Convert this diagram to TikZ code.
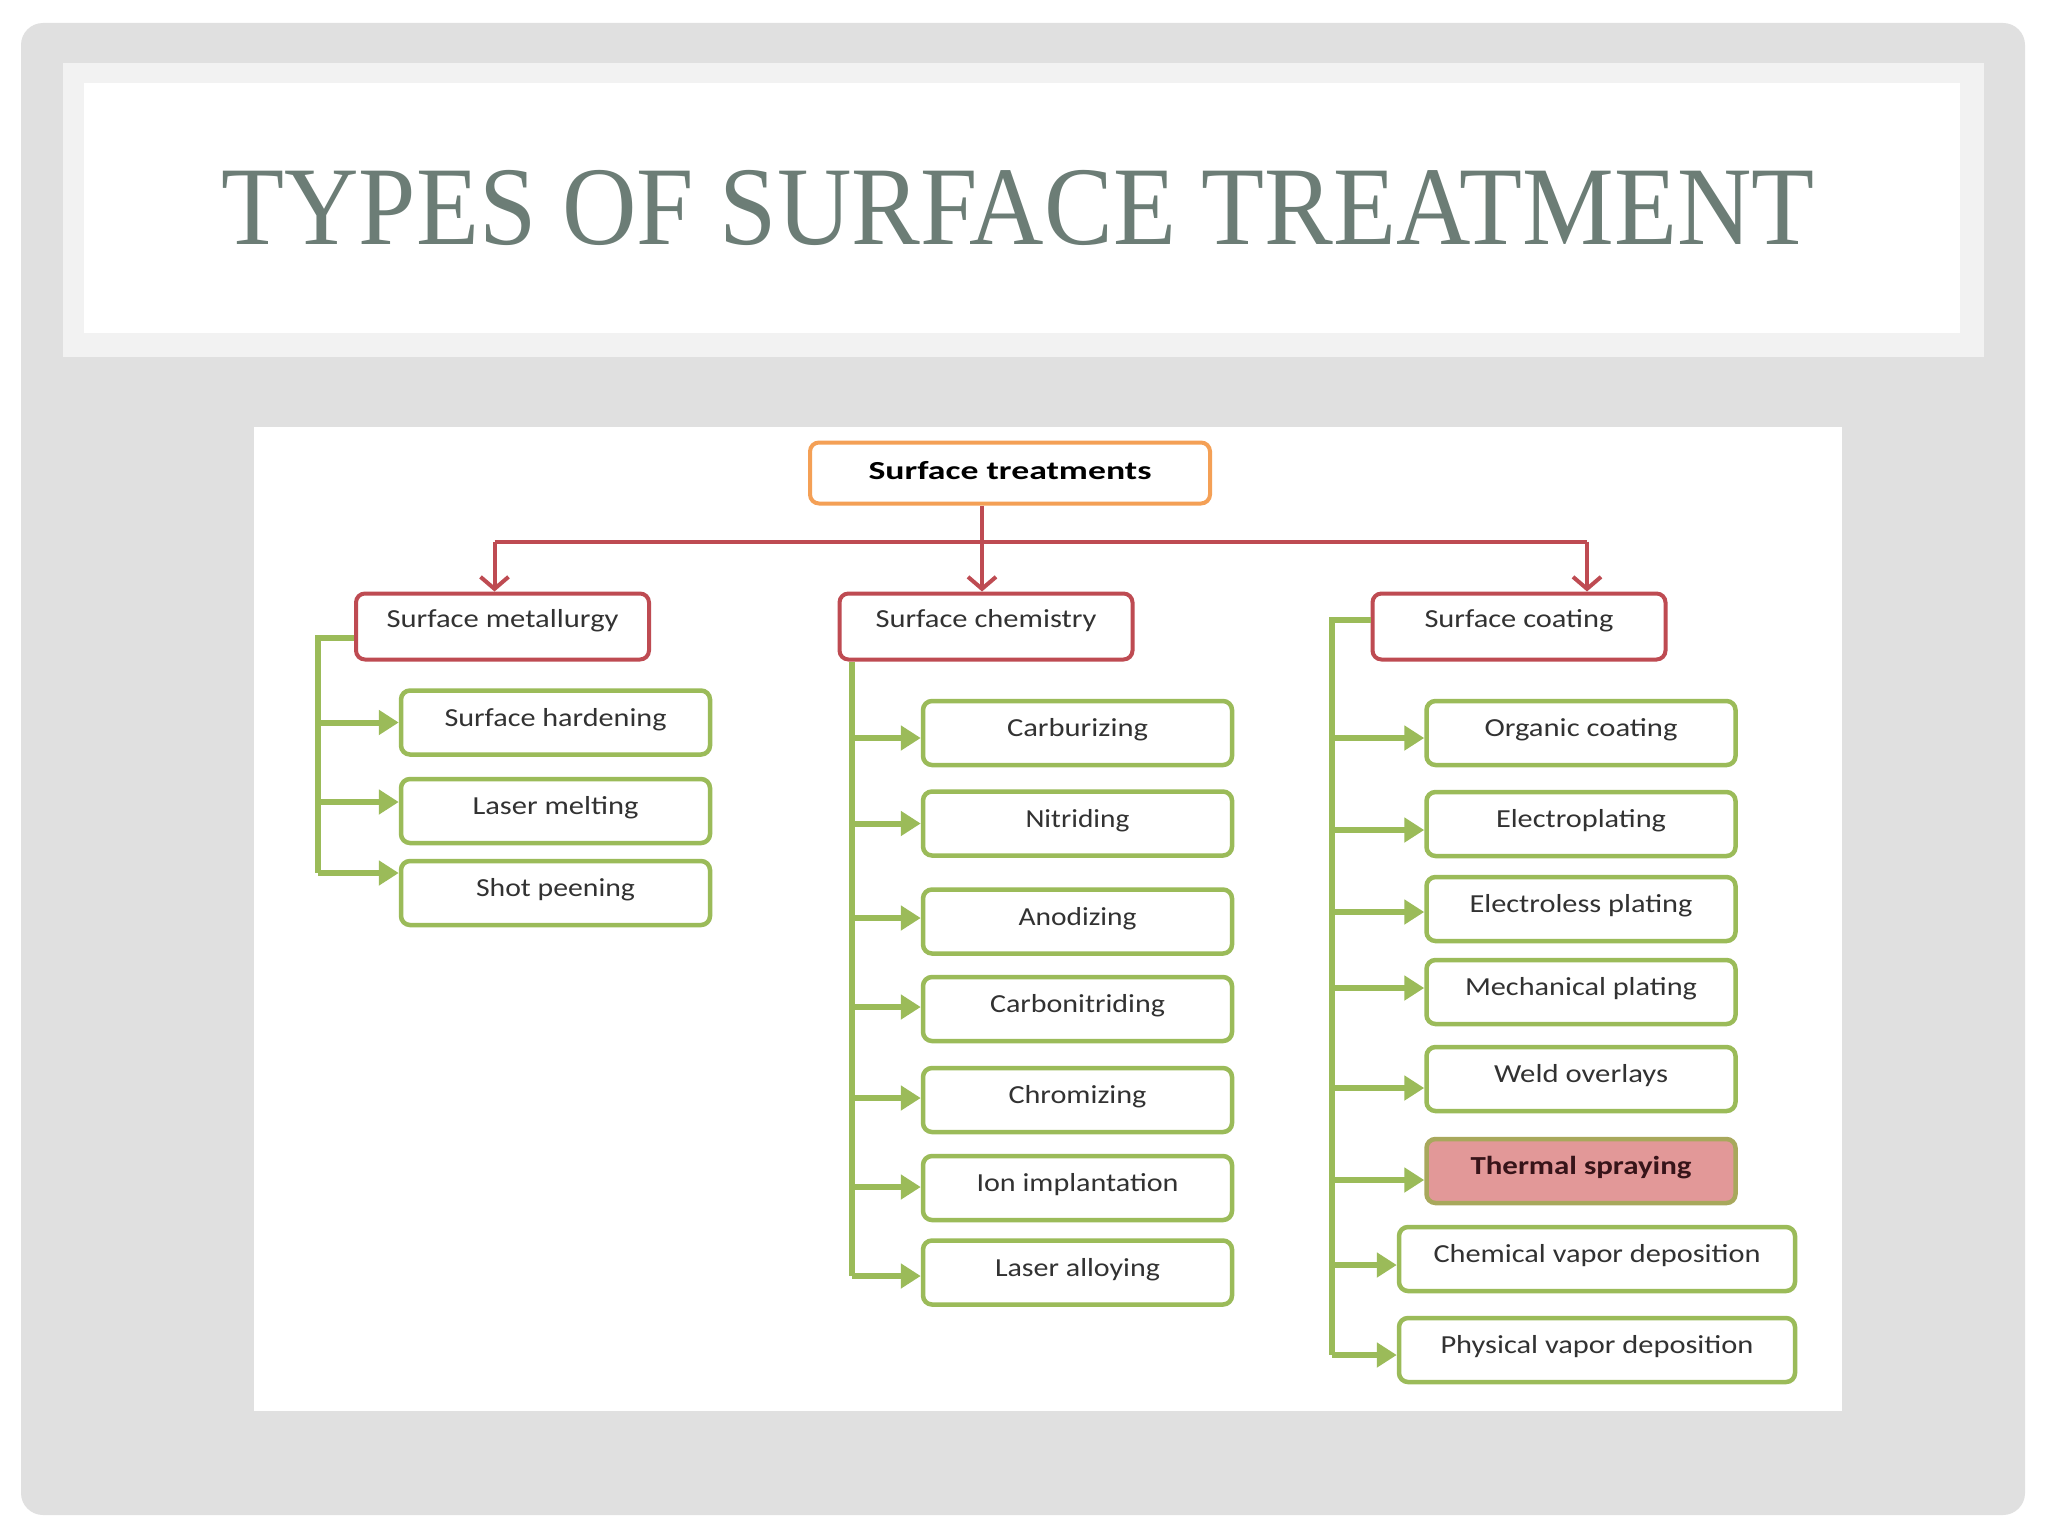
\documentclass[tikz,border=0pt]{standalone}
\usepackage{fontspec}
\setmainfont{Carlito}
\newfontfamily\titlefont{Liberation Serif}
\usetikzlibrary{arrows.meta,calc}
\definecolor{outergray}{RGB}{224,224,224}
\definecolor{framegray}{RGB}{242,242,242}
\definecolor{titlec}{RGB}{108,125,118}
\definecolor{redc}{RGB}{190,75,82}
\definecolor{orangec}{RGB}{244,160,86}
\definecolor{greenc}{RGB}{155,187,89}
\definecolor{txt}{RGB}{50,50,50}
\definecolor{pinkfill}{RGB}{226,152,152}
\definecolor{mudborder}{RGB}{168,168,92}
\definecolor{darktxt}{RGB}{55,20,25}
\newsavebox\fitbox
\newcommand\fitw[2]{\sbox\fitbox{#2}\pgfmathsetmacro\fitr{#1/\the\wd\fitbox}\scalebox{\fitr}[1]{\usebox\fitbox}}
\tikzset{
  boxbase/.style={rectangle, rounded corners=9pt, align=center, inner sep=0pt, fill=white,
    font=\fontsize{26}{30}\selectfont, text=txt},
  rootbox/.style={boxbase, draw=orangec, line width=4pt, minimum width=400pt, minimum height=61pt,
    text height=18pt, text depth=5pt, text=black},
  lvone/.style={boxbase, draw=redc, line width=4pt, minimum width=293pt, minimum height=66pt,
    text height=14pt, text depth=12pt},
  leaf/.style={boxbase, draw=greenc, line width=4.5pt, minimum width=309pt, minimum height=64pt,
    text height=16pt, text depth=9pt},
  hilite/.style={leaf, fill=pinkfill, draw=mudborder, text=darktxt},
  wideleaf/.style={leaf, minimum width=396pt},
  redline/.style={draw=redc, line width=4pt},
  redarr/.style={redline, -{Straight Barb[length=12pt,width=28pt]}},
  gline/.style={draw=greenc, line width=6pt},
  garr/.style={gline, -{Triangle[length=20pt,width=24pt]}}
}
\begin{document}
\begin{tikzpicture}[x=1pt,y=-1pt]
\useasboundingbox (0,0) rectangle (2048,1536);
% background
\fill[white] (0,0) rectangle (2048,1536);
\fill[outergray, rounded corners=22pt] (21,23) rectangle (2025,1515);
\fill[framegray] (63,63) rectangle (1984,357);
\fill[white] (84,83) rectangle (1960,333);
\fill[white] (254,427) rectangle (1842,1411);
% title
\node (title) [anchor=base, font=\titlefont\fontsize{112}{120}\selectfont, text=titlec, inner sep=0pt]
  at (1018,244) {\fitw{1593}{TYPES OF SURFACE TREATMENT}};
% root
\node[rootbox] (root) at (1010,473) {\fitw{283}{\bfseries Surface treatments}};
% level one
\node[lvone] (met) at (502.5,626.5) {\fitw{232}{Surface metallurgy}};
\node[lvone] (chem) at (986,626.5) {\fitw{221}{Surface chemistry}};
\node[lvone] (coat) at (1519,626.5) {\fitw{189}{Surface coating}};
% left leaves
\node[leaf] (hard) at (555.5,722.5) {\fitw{222}{Surface hardening}};
\node[leaf] (lmelt) at (555.5,811) {\fitw{166}{Laser melting}};
\node[leaf] (shot) at (555.5,893) {\fitw{159}{Shot peening}};
% middle leaves
\node[leaf] (carb) at (1077.5,733) {\fitw{141}{Carburizing}};
\node[leaf] (nitr) at (1077.5,823.5) {\fitw{104}{Nitriding}};
\node[leaf] (anod) at (1077.5,921.5) {\fitw{118}{Anodizing}};
\node[leaf] (cnit) at (1077.5,1009) {\fitw{175}{Carbonitriding}};
\node[leaf] (chrom) at (1077.5,1100) {\fitw{138}{Chromizing}};
\node[leaf] (ion) at (1077.5,1188) {\fitw{202}{Ion implantation}};
\node[leaf] (lall) at (1077.5,1272.5) {\fitw{165}{Laser alloying}};
% right leaves
\node[leaf] (org) at (1581,733) {\fitw{193}{Organic coating}};
\node[leaf] (elec) at (1581,824) {\fitw{170}{Electroplating}};
\node[leaf] (eless) at (1581,909) {\fitw{223}{Electroless plating}};
\node[leaf] (mech) at (1581,992) {\fitw{232}{Mechanical plating}};
\node[leaf] (weld) at (1581,1079) {\fitw{174}{Weld overlays}};
\node[hilite] (therm) at (1581,1171) {\fitw{221}{\bfseries Thermal spraying}};
\node[wideleaf] (cvd) at (1597,1259) {\fitw{327}{Chemical vapor deposition}};
\node[wideleaf] (pvd) at (1597,1350) {\fitw{313}{Physical vapor deposition}};
% red connectors
\coordinate (rs) at ($(root.south)+(-28,0)$);
\coordinate (jm) at ($(met.north)+(-8,-50)$);
\coordinate (jc) at ($(coat.north)+(68,-50)$);
\draw[redline] (jm) -- (jc);
\draw[redarr] (rs) -- (rs |- chem.north);
\draw[redarr] (jm) -- (jm |- met.north);
\draw[redarr] (jc) -- (jc |- coat.north);
% left green connectors
\coordinate (lstart) at ($(met.west)+(0,11.5)$);
\coordinate (lb) at ($(met.west)+(-36,11.5)$);
\foreach \n/\o in {hard/0,lmelt/-9,shot/-20}
  \coordinate (a-\n) at ($(\n.west)+(0,\o)$);
\draw[gline] (lstart) -- (lb) -- (lb |- a-shot);
\foreach \n in {hard,lmelt,shot}
  \draw[garr] (a-\n -| lb) -- (a-\n);
% middle green connectors
\coordinate (mb) at ($(chem.south west)+(14,0)$);
\foreach \n/\o in {carb/5,nitr/0,anod/-3.5,cnit/-2,chrom/-2,ion/-1,lall/3.5}
  \coordinate (a-\n) at ($(\n.west)+(0,\o)$);
\draw[gline] (mb) -- (mb |- a-lall);
\foreach \n in {carb,nitr,anod,cnit,chrom,ion,lall}
  \draw[garr] (a-\n -| mb) -- (a-\n);
% right green connectors
\coordinate (rstart) at ($(coat.west)+(0,-6.5)$);
\coordinate (rb) at ($(coat.west)+(-39,-6.5)$);
\foreach \n/\o in {org/5,elec/6,eless/3,mech/-4,weld/9,therm/9,cvd/6,pvd/5}
  \coordinate (a-\n) at ($(\n.west)+(0,\o)$);
\draw[gline] (rstart) -- (rb) -- (rb |- a-pvd);
\foreach \n in {org,elec,eless,mech,weld,therm,cvd,pvd}
  \draw[garr] (a-\n -| rb) -- (a-\n);
\end{tikzpicture}
\end{document}
